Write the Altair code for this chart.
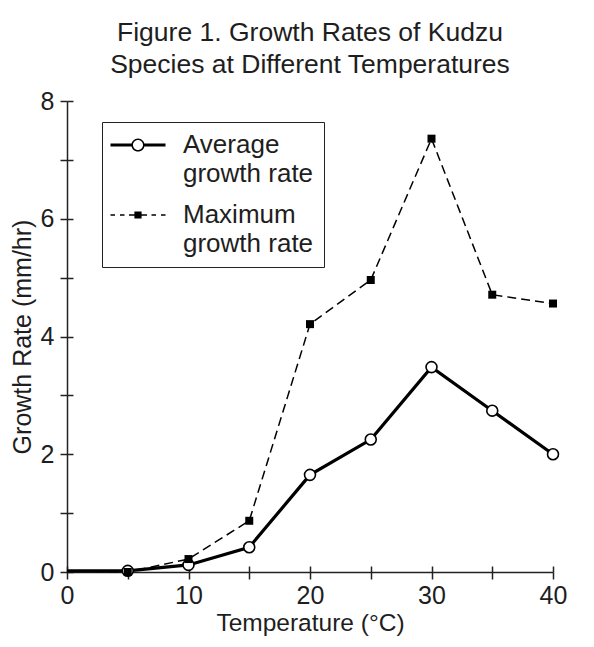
import altair as alt
import pandas as pd

# values
temps = [0, 5, 10, 15, 20, 25, 30, 35, 40]
avg_rate = [0.02, 0.02, 0.12, 0.42, 1.65, 2.25, 3.48, 2.74, 2.0]
max_rate = [0.02, 0.0, 0.22, 0.87, 4.21, 4.96, 7.36, 4.71, 4.56]
series = ["Average growth rate", "Maximum growth rate"]
x_ticks = [0, 5, 10, 15, 20, 25, 30, 35, 40]
y_ticks = [0, 1, 2, 3, 4, 5, 6, 7, 8]

df = pd.concat([
    pd.DataFrame({"temp": temps, "rate": avg_rate, "series": series[0]}),
    pd.DataFrame({"temp": temps, "rate": max_rate, "series": series[1]}),
])

FONT = "Liberation Sans"
INK = "#1e1e1e"

# legend symbols: line + marker as filled outlines (1 unit = 10px)
# average: thick solid line broken by an open ring
avg_sym = ("M-2.75,-0.15H-0.58V0.15H-2.75Z"
           "M0.58,-0.15H2.75V0.15H0.58Z"
           "M0.66,0A0.66,0.66,0,1,1,-0.66,0A0.66,0.66,0,1,1,0.66,0Z"
           "M0.5,0A0.5,0.5,0,1,0,-0.5,0A0.5,0.5,0,1,0,0.5,0Z")
# maximum: thin dashed line with a filled square
max_sym = ("M-2.75,-0.075H-2.3V0.075H-2.75Z"
           "M-1.8,-0.075H-1.35V0.075H-1.8Z"
           "M-0.9,-0.075H0.9V0.075H-0.9Z"
           "M1.35,-0.075H1.8V0.075H1.35Z"
           "M2.3,-0.075H2.75V0.075H2.3Z"
           "M-0.36,-0.36H0.36V0.36H-0.36Z")

x_scale = alt.Scale(domain=[0, 40], nice=False)
y_scale = alt.Scale(domain=[0, 8], nice=False)

x_axis = alt.Axis(values=x_ticks, labelExpr="datum.value % 10 == 0 ? datum.label : ''",
                  title="Temperature (°C)", tickSize=7, labelPadding=4, titlePadding=3,
                  titleFontSize=24.5, labelFlush=False, grid=False)
y_axis = alt.Axis(values=y_ticks, labelExpr="datum.value % 2 == 0 ? datum.label : ''",
                  title="Growth Rate (mm/hr)", tickSize=7, labelPadding=6, titlePadding=5,
                  grid=False)

base = alt.Chart(df).encode(
    x=alt.X("temp:Q", scale=x_scale, axis=x_axis),
    y=alt.Y("rate:Q", scale=y_scale, axis=y_axis),
)

avg_line = base.transform_filter(alt.datum.series == series[0]).mark_line(
    color="black", strokeWidth=3.2)
max_line = base.transform_filter(alt.datum.series == series[1]).mark_line(
    color="black", strokeWidth=1.5, strokeDash=[9, 5])
avg_pts = base.transform_filter(
    (alt.datum.series == series[0]) & (alt.datum.temp > 0)
).mark_point(shape="circle", filled=True, fill="white", stroke="black",
             strokeWidth=1.6, size=120, opacity=1)
max_pts = base.transform_filter(
    (alt.datum.series == series[1]) & (alt.datum.temp > 0)
).mark_square(color="black", size=64, opacity=1)

leg = alt.Legend(title=None, orient="none", legendX=35, legendY=21,
                 symbolSize=400, symbolOffset=13, symbolOpacity=1,
                 symbolFillColor="black", symbolStrokeWidth=0,
                 labelOffset=32, labelFont=FONT, labelFontSize=26, labelColor=INK,
                 labelExpr="[slice(datum.label, 0, indexof(datum.label, ' ')),"
                           " slice(datum.label, indexof(datum.label, ' ') + 1)]",
                 padding=10, rowPadding=15, strokeColor="#222", labelLimit=200)
# invisible layer that only carries the legend
carrier = base.mark_point(filled=True, color="black", opacity=0).encode(
    shape=alt.Shape("series:N", scale=alt.Scale(domain=series, range=[avg_sym, max_sym]), legend=leg),
)

main = alt.layer(avg_line, max_line, avg_pts, max_pts, carrier)

# second set of ticks pointing inward so the ticks cross the axis line
inner = alt.Chart(df).mark_point(opacity=0).encode(
    x=alt.X("temp:Q", scale=x_scale,
            axis=alt.Axis(values=x_ticks, orient="bottom", offset=-6, tickSize=6,
                          labels=False, domain=False, title=None, grid=False)),
    y=alt.Y("rate:Q", scale=y_scale,
            axis=alt.Axis(values=y_ticks, orient="left", offset=-6, tickSize=6,
                          labels=False, domain=False, title=None, grid=False)),
)

chart = alt.layer(main, inner).resolve_axis(x="independent", y="independent").properties(
    width=486, height=471,
    autosize=alt.AutoSizeParams(type="none"),
    padding={"left": 59, "top": 93, "right": 30, "bottom": 67},
    title=alt.TitleParams(
        text=["Figure 1. Growth Rates of Kudzu", "Species at Different Temperatures"],
        font=FONT, fontSize=26.5, fontWeight="normal", color=INK,
        lineHeight=32, anchor="middle", offset=11,
    ),
).configure(
    style={"guide-label": {"lineHeight": 29}}
).configure_view(stroke=None).configure_axis(
    labelFont=FONT, labelFontSize=25, labelColor=INK,
    titleFont=FONT, titleFontSize=25, titleFontWeight="normal", titleColor=INK,
    domainColor="#222", domainWidth=1.5, tickColor="#222", tickWidth=1.5,
)

chart.save("out.html", embed_options={"renderer": "svg", "actions": False})
